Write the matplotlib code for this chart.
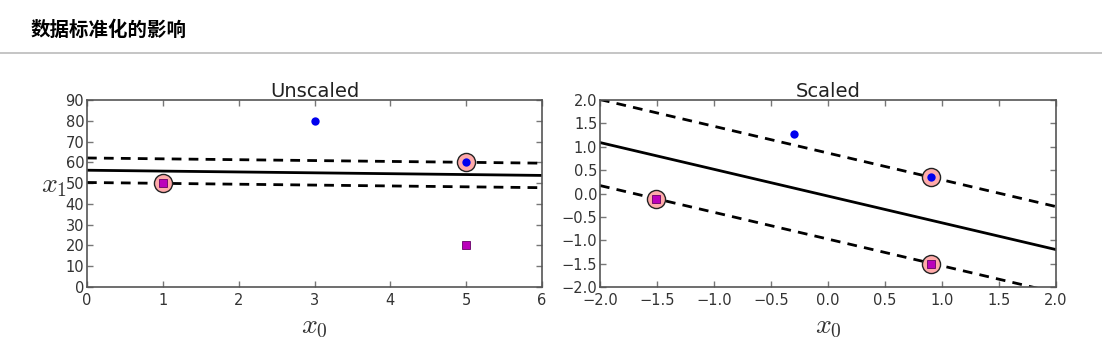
import numpy as np
import matplotlib
matplotlib.use("Agg")
import matplotlib.pyplot as plt
from matplotlib.lines import Line2D

# unscaled data
x0_unscaled = [1, 5, 3, 5]
x1_unscaled = [50, 20, 80, 60]
classes = [0, 0, 1, 1]
sv_unscaled = [0, 3]  # indices of support vectors

# scaled data (standardised)
x0_scaled = [-1.51, 0.905, -0.30, 0.905]
x1_scaled = [-0.115, -1.50, 1.27, 0.346]
sv_scaled = [0, 1, 3]

# decision boundary + margins (value at left, right edge)
unscaled_xlim = [0, 6]
unscaled_mid = [56.2, 53.7]
unscaled_up = [62.1, 59.6]
unscaled_lo = [50.3, 47.8]

scaled_xlim = [-2, 2]
scaled_mid = [1.09, -1.20]
scaled_up = [2.01, -0.28]
scaled_lo = [0.17, -2.12]

scaled_ticks = [-2.0, -1.5, -1.0, -0.5, 0.0, 0.5, 1.0, 1.5, 2.0]

plt.rcParams['mathtext.fontset'] = 'cm'
plt.rcParams['font.family'] = ['DejaVu Sans']
plt.rcParams['axes.unicode_minus'] = True

fig = plt.figure(figsize=(11.02, 3.54), dpi=100)
fig.text(31/1102, 1-30/354, "数据标准化的影响", fontsize=14, fontweight='bold',
         family=['Noto Sans CJK SC', 'DejaVu Sans'], va='center', ha='left')
fig.add_artist(Line2D([0, 1], [1-53/354, 1-53/354], color='#bbbbbb', lw=1.2))

ax1 = fig.add_axes([87/1102, 1-287/354, 455/1102, 187/354])
ax2 = fig.add_axes([600/1102, 1-287/354, 456/1102, 187/354])


def draw(ax, xs, ys, sv, xlim, mid, up, lo):
    xs = np.array(xs)
    ys = np.array(ys)
    c = np.array(classes)
    ax.plot(xlim, mid, 'k-', lw=2)
    ax.plot(xlim, up, 'k--', lw=2, dashes=(3.5, 2.6))
    ax.plot(xlim, lo, 'k--', lw=2, dashes=(3.5, 2.6))
    ax.scatter(xs[sv], ys[sv], s=170, facecolors='#FFAAAA', edgecolors='#222222',
               linewidths=1, zorder=3)
    ax.plot(xs[c == 1], ys[c == 1], 'o', color='#0000ee', ms=6, mec='none', zorder=4)
    ax.plot(xs[c == 0], ys[c == 0], 's', color='#bb00bb', ms=6, mec='#660066',
            mew=0.6, zorder=4)


draw(ax1, x0_unscaled, x1_unscaled, sv_unscaled, unscaled_xlim,
     unscaled_mid, unscaled_up, unscaled_lo)
draw(ax2, x0_scaled, x1_scaled, sv_scaled, scaled_xlim,
     scaled_mid, scaled_up, scaled_lo)

ax1.set_xlim(0, 6)
ax1.set_ylim(0, 90)
ax1.set_xticks(range(0, 7))
ax1.set_yticks(range(0, 100, 10))
ax2.set_xlim(-2, 2)
ax2.set_ylim(-2, 2)
labels = [('%.1f' % v).replace('-', '\u2212') for v in scaled_ticks]
ax2.set_xticks(scaled_ticks)
ax2.set_yticks(scaled_ticks)
ax2.set_xticklabels(labels)
ax2.set_yticklabels(labels)

ax1.set_title("Unscaled", fontsize=14, color='#222222', pad=2)
ax2.set_title("Scaled", fontsize=14, color='#222222', pad=2)
ax1.set_xlabel("$x_0$", fontsize=20, color='#333333', labelpad=3)
ax2.set_xlabel("$x_0$", fontsize=20, color='#333333', labelpad=3)
ax1.set_ylabel("$x_1$", fontsize=20, color='#333333', rotation=0)
ax1.yaxis.set_label_coords(-0.072, 0.47)

for ax in (ax1, ax2):
    ax.tick_params(direction='in', top=True, right=True, length=4,
                   width=1, color='#777777', labelsize=10.5, labelcolor='#333333', pad=2)
    ax.tick_params(axis='x', pad=4)
    for s in ax.spines.values():
        s.set_color('#555555')
        s.set_linewidth(1.2)

fig.savefig("out.png", dpi=100)
